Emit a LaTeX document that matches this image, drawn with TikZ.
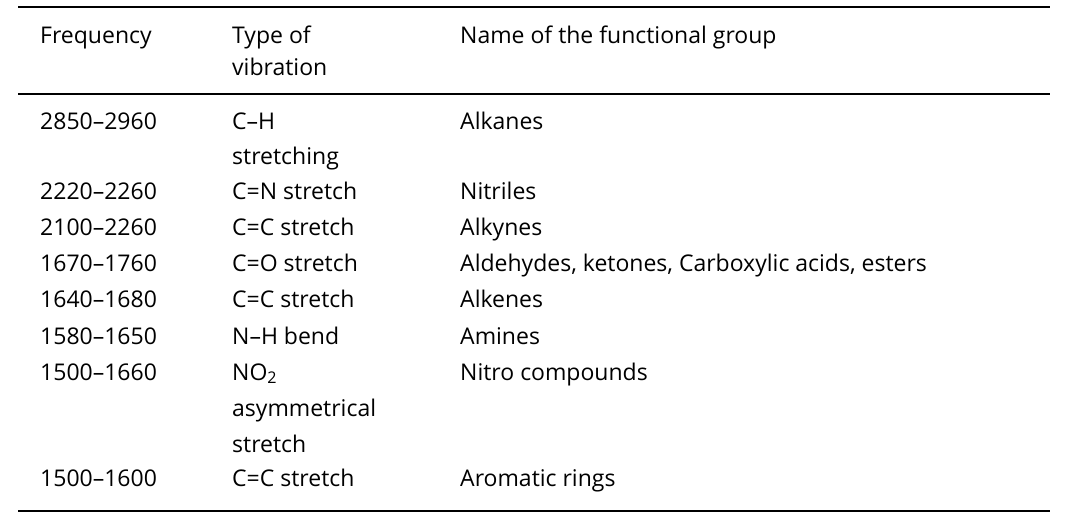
\documentclass[tikz,border=0pt]{standalone}
\usepackage{fontspec}
\setmainfont{Open Sans}
\begin{document}
\begin{tikzpicture}[x=1pt,y=-1pt,
  cell/.style={anchor=base west,inner sep=0pt,font=\fontsize{23}{36}\selectfont},
  rule/.style={line width=1.6pt}]
\useasboundingbox (0,0) rectangle (1075,518);
\coordinate (tl) at (18,7); \coordinate (tr) at (1050,7);
\coordinate (ml) at (18,94); \coordinate (mr) at (1050,94);
\coordinate (bl) at (18,511); \coordinate (br) at (1050,511);
\draw[rule] (tl) -- (tr);
\draw[line width=1.2pt] (ml) -- (mr);
\draw[rule] (bl) -- (br);
\node[cell] (h1) at (40,44) {Frequency};
\node[cell] (h2) at (232,44) {Type of};
\node[cell] (h2b) at (232,76) {vibration};
\node[cell] (h3) at (460,44) {Name of the functional group};
\node[cell] (a1) at (40,130) {2850–2960};
\node[cell] (a2) at (232,130) {C–H};
\node[cell] (a2b) at (232,165) {stretching};
\node[cell] (a3) at (460,130) {Alkanes};
\node[cell] (b1) at (40,200) {2220–2260};
\node[cell] (b2) at (232,200) {C=N stretch};
\node[cell] (b3) at (460,200) {Nitriles};
\node[cell] (c1) at (40,236) {2100–2260};
\node[cell] (c2) at (232,236) {C=C stretch};
\node[cell] (c3) at (460,236) {Alkynes};
\node[cell] (d1) at (40,272) {1670–1760};
\node[cell] (d2) at (232,272) {C=O stretch};
\node[cell] (d3) at (460,272) {Aldehydes, ketones, Carboxylic acids, esters};
\node[cell] (e1) at (40,308) {1640–1680};
\node[cell] (e2) at (232,308) {C=C stretch};
\node[cell] (e3) at (460,308) {Alkenes};
\node[cell] (f1) at (40,344) {1580–1650};
\node[cell] (f2) at (232,344) {N–H bend};
\node[cell] (f3) at (460,344) {Amines};
\node[cell] (g1) at (40,380) {1500–1660};
\node[cell] (g2) at (232,380) {NO\textsubscript{2}};
\node[cell] (g2b) at (232,416) {asymmetrical};
\node[cell] (g2c) at (232,452) {stretch};
\node[cell] (g3) at (460,380) {Nitro compounds};
\node[cell] (k1) at (40,486) {1500–1600};
\node[cell] (k2) at (232,486) {C=C stretch};
\node[cell] (k3) at (460,486) {Aromatic rings};
\end{tikzpicture}
\end{document}
